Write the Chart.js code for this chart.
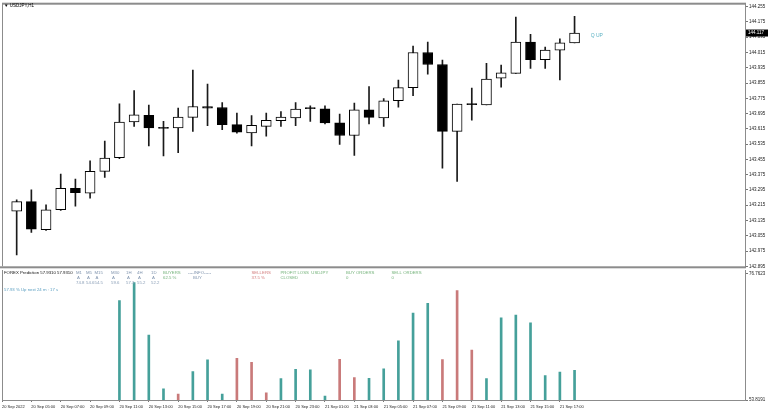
<!DOCTYPE html>
<html>
<head>
<meta charset="utf-8">
<script src="https://cdn.jsdelivr.net/npm/chart.js@4/dist/chart.umd.min.js"></script>
<style>
  body { margin: 0; background: #fff; }
  #wrap { position: relative; width: 768px; height: 412px; }
  canvas { position: absolute; left: 0; }
  #priceChart { top: 0; }
  #probChart { top: 270px; }
</style>
</head>
<body>
<div id="wrap">
  <canvas id="priceChart" width="768" height="270"></canvas>
  <canvas id="probChart" width="768" height="142"></canvas>
</div>
<script>
// USDJPY H1, bar 0 = 20 Sep 04:00
const opens  = [143.184, 143.234, 143.087, 143.191, 143.304, 143.278, 143.392, 143.464, 143.651, 143.686,
                143.620, 143.620, 143.675, 143.732, 143.727, 143.637, 143.594, 143.628, 143.658, 143.672,
                143.724, 143.720, 143.646, 143.580, 143.715, 143.672, 143.763, 143.831, 144.015, 143.952,
                143.602, 143.745, 143.741, 143.880, 143.906, 144.070, 143.978, 144.027, 144.065];
const highs  = [143.243, 143.296, 143.217, 143.378, 143.352, 143.447, 143.551, 143.746, 143.815, 143.740,
                143.654, 143.724, 143.923, 143.850, 143.753, 143.698, 143.684, 143.698, 143.706, 143.753,
                143.736, 143.736, 143.693, 143.750, 143.836, 143.774, 143.871, 144.049, 144.070, 143.975,
                143.745, 143.828, 143.958, 143.949, 144.200, 144.110, 144.044, 144.087, 144.205];
const lows   = [142.954, 143.072, 143.083, 143.188, 143.210, 143.252, 143.361, 143.459, 143.628, 143.525,
                143.473, 143.490, 143.602, 143.632, 143.611, 143.593, 143.525, 143.577, 143.628, 143.632,
                143.654, 143.641, 143.534, 143.476, 143.641, 143.628, 143.729, 143.789, 143.902, 143.409,
                143.340, 143.660, 143.741, 143.833, 143.906, 143.932, 143.932, 143.871, 144.065];
const closes = [143.234, 143.089, 143.191, 143.304, 143.281, 143.392, 143.462, 143.651, 143.689, 143.620,
                143.620, 143.677, 143.732, 143.724, 143.637, 143.597, 143.634, 143.660, 143.677, 143.719,
                143.724, 143.646, 143.580, 143.715, 143.675, 143.762, 143.831, 144.015, 143.952, 143.602,
                143.745, 143.745, 143.876, 143.909, 144.070, 143.978, 144.027, 144.065, 144.117];

// indicator histogram (null = no value), u = up / d = down
const probValues = [null, null, null, null, null, null, null, 71.87, 75.15, 65.60,
                    55.84, 54.89, 58.96, 61.11, 54.89, 61.40, 60.68, 55.13, 57.71, 59.38,
                    59.32, 54.54, 61.22, 57.89, 57.76, 59.50, 64.57, 69.59, 71.39, 61.17,
                    73.71, 62.91, 57.71, 68.75, 69.23, 67.85, 58.25, 58.89, 59.20];
const probSide   = ['', '', '', '', '', '', '', 'u', 'u', 'u',
                    'u', 'd', 'u', 'u', 'u', 'd', 'd', 'd', 'u', 'u',
                    'u', 'u', 'd', 'd', 'u', 'u', 'u', 'u', 'u', 'd',
                    'd', 'd', 'u', 'u', 'u', 'u', 'u', 'u', 'u'];

// axis ticks
const priceTicks = [144.255, 144.175, 144.095, 144.015, 143.935, 143.855, 143.775, 143.695, 143.615,
                    143.535, 143.455, 143.375, 143.295, 143.215, 143.135, 143.055, 142.975, 142.895];
const probTicks = [53.8191, 76.7623];
const timeTicks = [-1, 1, 3, 5, 7, 9, 11, 13, 15, 17, 19, 21, 23, 25, 27, 29, 31, 33, 35, 37];
const timeLabels = ['20 Sep 2022', '20 Sep 05:00', '20 Sep 07:00', '20 Sep 09:00', '20 Sep 11:00',
                    '20 Sep 13:00', '20 Sep 15:00', '20 Sep 17:00', '20 Sep 19:00', '20 Sep 21:00',
                    '20 Sep 23:00', '21 Sep 01:00', '21 Sep 03:00', '21 Sep 05:00', '21 Sep 07:00',
                    '21 Sep 09:00', '21 Sep 11:00', '21 Sep 13:00', '21 Sep 15:00', '21 Sep 17:00'];

const X_MIN = -1, X_MAX = 49.61;
const FONT = "'Liberation Sans', Arial, sans-serif";
Chart.defaults.font.family = FONT;
Chart.defaults.animation = false;

const TEAL = '#45a09a', RED = '#c97a7a';

// candle bodies and wicks
const wickData = lows.map((l, i) => ({x: i, y: [l, highs[i]]}));
const bodyData = opens.map((o, i) => {
  const c = closes[i];
  if (Math.abs(o - c) < 0.004) {
    const m = (o + c) / 2;
    return {x: i, y: [m - 0.003, m + 0.003]};
  }
  return {x: i, y: [o, c]};
});
const bodyFill = opens.map((o, i) => closes[i] - o >= 0.004 ? '#ffffff' : '#000000');

function frame(ctx, a, top) {
  ctx.save();
  ctx.strokeStyle = '#8c8c8c';
  ctx.lineWidth = 1;
  ctx.beginPath();
  ctx.moveTo(a.left + 0.5, top);
  ctx.lineTo(a.left + 0.5, a.bottom);
  ctx.moveTo(a.right + 0.5, top);
  ctx.lineTo(a.right + 0.5, a.bottom);
  ctx.stroke();
  ctx.restore();
}

const priceOverlay = {
  id: 'priceOverlay',
  afterDraw(chart) {
    const {ctx, chartArea: a, scales} = chart;
    frame(ctx, a, a.top);
    ctx.save();
    ctx.fillStyle = '#8c8c8c';
    ctx.fillRect(a.left, a.top - 1, a.right - a.left + 1, 2);
    ctx.fillRect(0, a.bottom, a.right + 1, 2);

    ctx.fillStyle = '#000';
    ctx.font = '4.5px ' + FONT;
    ctx.textBaseline = 'middle';
    ctx.textAlign = 'left';
    ctx.fillText('\u25BC USDJPY,H1', a.left + 2, 6);

    // current price box
    const last = closes[closes.length - 1];
    const py = scales.y.getPixelForValue(last);
    ctx.fillStyle = '#000';
    ctx.fillRect(a.right + 1, py - 3.5, 768 - a.right - 1, 7);
    ctx.fillStyle = '#fff';
    ctx.fillText(last.toFixed(3), a.right + 3, py);

    // signal text next to the last bar
    const lx = scales.x.getPixelForValue(closes.length - 1 + 1.1);
    ctx.fillStyle = '#5fb3c4';
    ctx.font = '5px ' + FONT;
    ctx.fillText('Q UP', lx, py + 3);
    ctx.restore();
  }
};

new Chart(document.getElementById('priceChart'), {
  type: 'bar',
  data: {
    datasets: [
      {data: bodyData, backgroundColor: bodyFill, borderColor: '#000', borderWidth: 1,
       borderSkipped: false, barThickness: 10, grouped: false, order: 1},
      {data: wickData, backgroundColor: '#1a1a1a', borderWidth: 0,
       barThickness: 1, grouped: false, order: 2}
    ]
  },
  options: {
    responsive: false,
    layout: {padding: {left: 2, right: 0, top: 3, bottom: 2}},
    plugins: {legend: {display: false}, tooltip: {enabled: false}},
    scales: {
      x: {type: 'linear', min: X_MIN, max: X_MAX, offset: false, display: false,
          grid: {offset: false}},
      y: {
        position: 'right', min: 142.895, max: 144.2706, beginAtZero: false,
        afterFit(s) { s.width = 23; },
        afterBuildTicks(s) { s.ticks = priceTicks.map(v => ({value: v})); },
        grid: {drawOnChartArea: false, tickLength: 3, color: '#777'},
        border: {display: false},
        ticks: {font: {size: 4.5}, color: '#222', padding: 1,
                callback: v => v.toFixed(3)}
      }
    }
  },
  plugins: [priceOverlay]
});

const probOverlay = {
  id: 'probOverlay',
  afterDraw(chart) {
    const {ctx, chartArea: a} = chart;
    frame(ctx, a, 0);
    ctx.save();
    ctx.fillStyle = '#8c8c8c';
    ctx.fillRect(a.left, a.bottom, a.right - a.left + 1, 1);

    ctx.textBaseline = 'middle';
    ctx.textAlign = 'left';
    const t = (s, x, y, c) => { ctx.fillStyle = c; ctx.fillText(s, x, y - 270); };
    ctx.font = '4.3px ' + FONT;
    t('FOREX Prediction 57.9310 57.9310', 4, 272.5, '#111');
    t('57.93 % Up next 24 m : 17 s', 4, 290, '#5a9ec0');

    const cols = [['M1', 76], ['M5', 86], ['M15', 94.5], ['M30', 111], ['1H', 126], ['4H', 137], ['1D', 151]];
    const nums = ['74.8', '54.6', '54.5', '59.6', '57.3', '55.2', '52.2'];
    cols.forEach(([name, x], i) => {
      t(name, x, 272.5, '#7f93ad');
      t('A', x + 1, 277.5, '#7f93ad');
      t(nums[i], x, 283, '#8ca0b8');
    });
    const GREEN = '#74b27a';
    t('BUYERS', 163, 272.5, GREEN); t('62.5 %', 163, 277.5, GREEN);
    t('----INFO-----', 188, 272.5, '#7f93ad'); t('BUY', 193, 277.5, '#7f93ad');
    t('SELLERS', 251.5, 272.5, '#d27a7a'); t('37.5 %', 251.5, 277.5, '#d27a7a');
    t('PROFIT LOSS  USDJPY', 280.5, 272.5, GREEN); t('CLOSED', 280.5, 277.5, GREEN);
    t('BUY ORDERS', 346, 272.5, GREEN); t('0', 346, 277.5, GREEN);
    t('SELL ORDERS', 391.5, 272.5, GREEN); t('0', 391.5, 277.5, GREEN);
    ctx.restore();
  }
};

new Chart(document.getElementById('probChart'), {
  type: 'bar',
  data: {
    datasets: [{
      data: probValues.map((v, i) => ({x: i, y: v})),
      backgroundColor: probSide.map(s => s === 'd' ? RED : TEAL),
      borderWidth: 0, barThickness: 2, grouped: false
    }]
  },
  options: {
    responsive: false,
    layout: {padding: {left: 2, right: 0, top: 2, bottom: 0}},
    plugins: {legend: {display: false}, tooltip: {enabled: false}},
    scales: {
      x: {
        type: 'linear', min: X_MIN, max: X_MAX, offset: false,
        afterFit(s) { s.height = 12; },
        afterBuildTicks(s) { s.ticks = timeTicks.map(v => ({value: v})); },
        grid: {drawOnChartArea: false, offset: false, tickLength: 2, color: '#777'},
        border: {display: false},
        ticks: {font: {size: 4}, color: '#222', padding: 2, align: 'start',
                autoSkip: false, maxRotation: 0,
                callback: (v, i) => timeLabels[i]}
      },
      y: {
        position: 'right', min: probTicks[0], max: probTicks[1], beginAtZero: false,
        afterFit(s) { s.width = 23; },
        afterBuildTicks(s) { s.ticks = probTicks.map(v => ({value: v})); },
        grid: {drawOnChartArea: false, tickLength: 3, color: '#777'},
        border: {display: false},
        ticks: {font: {size: 4.5}, color: '#222', padding: 1,
                callback: v => v.toFixed(4)}
      }
    }
  },
  plugins: [probOverlay]
});
</script>
</body>
</html>
